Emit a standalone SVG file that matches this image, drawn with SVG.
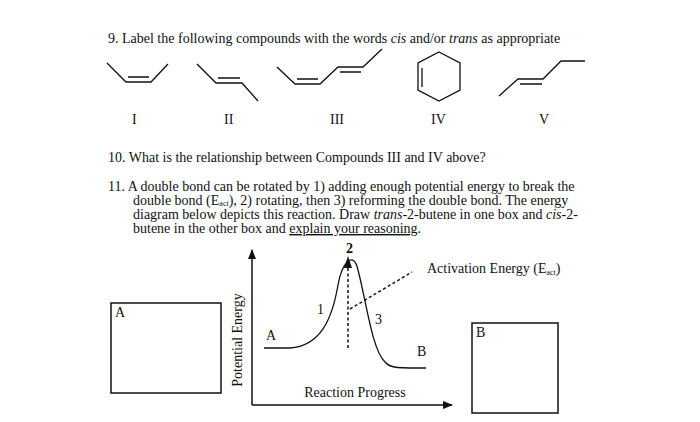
<svg xmlns="http://www.w3.org/2000/svg" width="700" height="422" viewBox="0 0 700 422">
<style>
text{font-family:"Liberation Serif",serif;font-size:14px;fill:#111}
.m{fill:none;stroke:#111;stroke-width:1.3}
.d{fill:none;stroke:#111;stroke-width:1.5;stroke-dasharray:3,2.5}
</style>
<defs><marker id="ah" markerWidth="10" markerHeight="8" refX="9" refY="4" orient="auto" markerUnits="userSpaceOnUse"><path d="M0,0 L10,4 L0,8 Z" fill="#111"/></marker></defs>
<rect width="700" height="422" fill="#fff"/>
<text x="108" y="43">9.  Label the following compounds with the words <tspan font-style="italic">cis</tspan> and/or <tspan font-style="italic">trans</tspan> as appropriate</text>
<g id="I"><path class="m" d="M107,63 L126,82 L151,82 L168,64 M128,77 L149,77"/><text x="132" y="124" font-size="13">I</text></g>
<g id="II"><path class="m" d="M197,64 L216,83 L242,83 L258,101 M218,78 L240,78"/><text x="224" y="124" font-size="13">II</text></g>
<g id="III"><path class="m" d="M277,67 L295,84 L320,84 L338,67 L363,67 L382,49 M297,79 L318,79 M340,72 L361,72"/><text x="330" y="124" font-size="13">III</text></g>
<g id="IV"><path class="m" d="M439,52 L460,63 L460,90 L439,101 L418,90 L418,63 Z M422,68 L422,87"/><text x="431" y="124" font-size="13">IV</text></g>
<g id="V"><path class="m" d="M499,96 L518,79 L543,79 L561,61 L585,61 M520,84 L542,84"/><text x="539" y="124" font-size="13">V</text></g>
<text x="108" y="162">10. What is the relationship between Compounds III and IV above?</text>
<text x="108" y="191">11. A double bond can be rotated by 1) adding enough potential energy to break the</text>
<text x="133" y="205">double bond (E<tspan font-size="8" dy="1">act</tspan><tspan dy="-1">), 2) rotating, then 3) reforming the double bond. The energy</tspan></text>
<text x="133" y="219">diagram below depicts this reaction. Draw <tspan font-style="italic">trans</tspan>-2-butene in one box and <tspan font-style="italic">cis</tspan>-2-</text>
<text x="133" y="233">butene in the other box and <tspan text-decoration="underline">explain your reasoning</tspan>.</text>
<g id="boxA"><rect x="111" y="303" width="110" height="90" fill="none" stroke="#111" stroke-width="1.5"/><text x="115" y="317" font-size="11">A</text></g>
<g id="boxB"><rect x="472" y="323" width="86" height="90" fill="none" stroke="#111" stroke-width="1.5"/><text x="476" y="337" font-size="11">B</text></g>
<g id="connectors">
<path d="M252,405 L252,250" stroke="#111" stroke-width="1.5" marker-end="url(#ah)"/>
<path d="M252,405 L452,405" stroke="#111" stroke-width="1.5" marker-end="url(#ah)"/>
<path class="m" stroke-width="1.6" d="M264,348 L290,348 C320,346 332,320 338,285 C342,262 354,250 358,270 C366,300 372,350 385,362 C390,368 395,368 426,368"/>
<path class="d" d="M348,348 L348,266"/>
<path d="M344,268 L348,256 L352,268 Z" fill="#111"/>
<path class="d" d="M350,309 L412,272"/>
</g>
<text x="232" y="330" font-size="12" transform="rotate(-90 242 330)" text-anchor="middle">Potential Energy</text>
<text x="355" y="397" font-size="13" text-anchor="middle">Reaction Progress</text>
<text x="346" y="253" font-size="11" font-weight="bold">2</text>
<text x="317" y="314" font-size="9">1</text>
<text x="375" y="324" font-size="9">3</text>
<text x="266" y="340" font-size="12">A</text>
<text x="417" y="356" font-size="12">B</text>
<text x="427" y="273">Activation Energy (E<tspan font-size="8" dy="2">act</tspan><tspan dy="-2">)</tspan></text>
</svg>
